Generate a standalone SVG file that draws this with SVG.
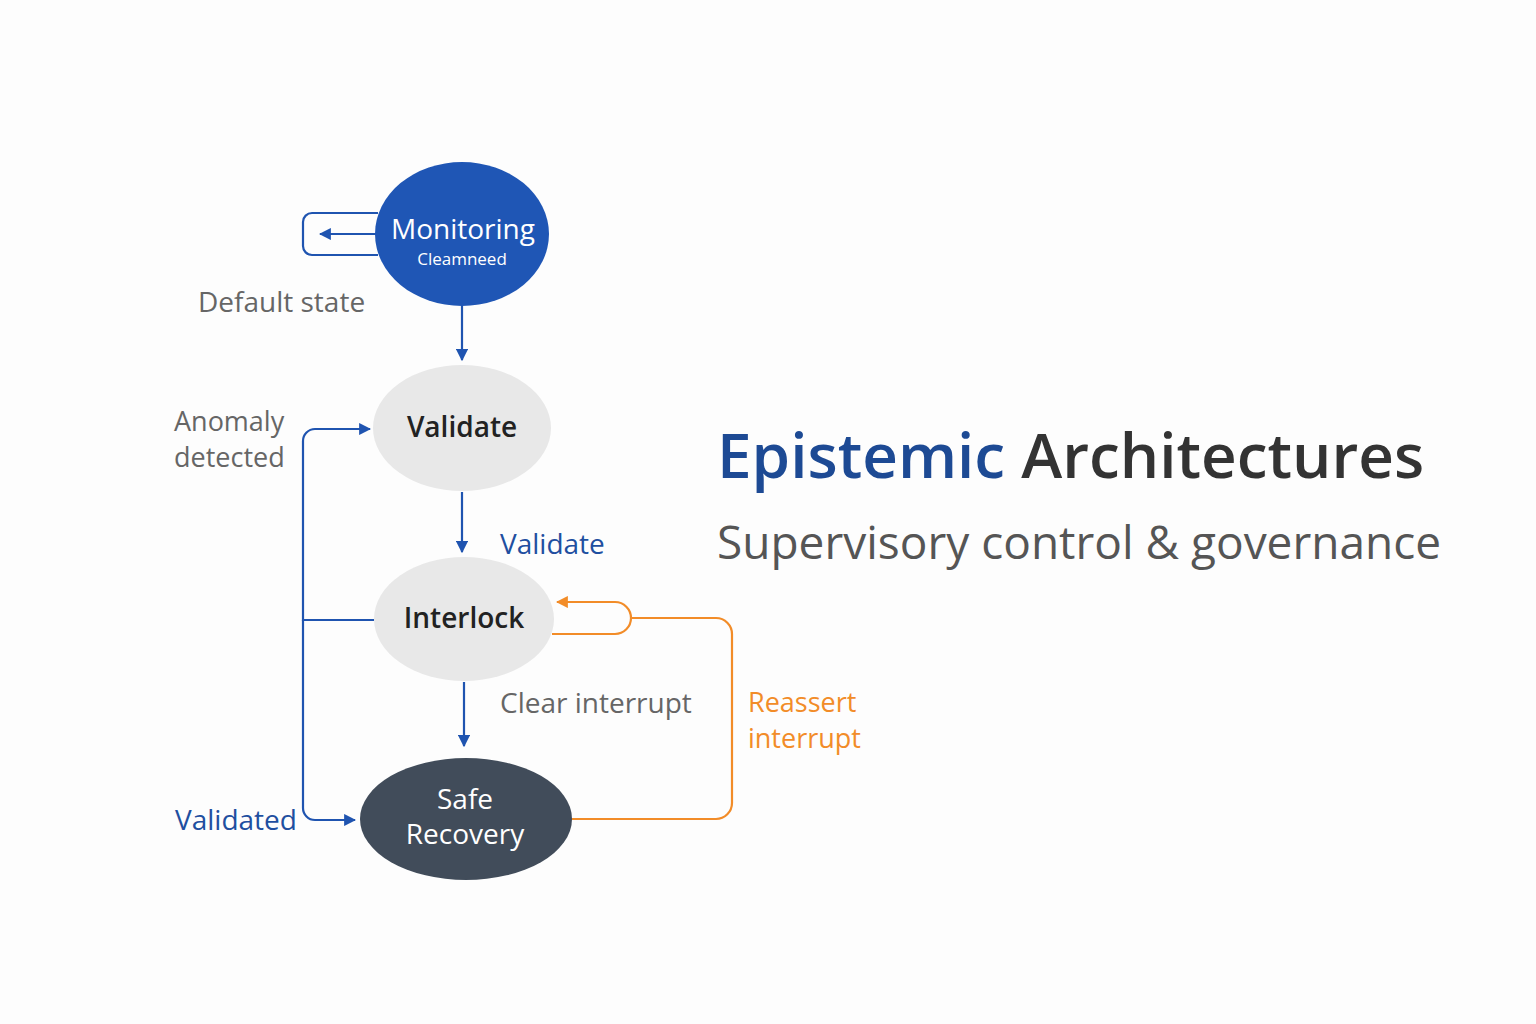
<svg xmlns="http://www.w3.org/2000/svg" width="1536" height="1024" viewBox="0 0 1536 1024">
<style>
text{font-family:"Open Sans","Noto Sans",sans-serif}
.b{fill:none;stroke:#1f54b0;stroke-width:2.2}
.o{fill:none;stroke:#f28c28;stroke-width:2.2}
.lbl{font-size:27px;fill:#666}
</style>
<defs>
<marker id="ab" viewBox="0 0 10 10" refX="9" refY="5" markerWidth="5.5" markerHeight="5.5" orient="auto"><path d="M0,0L10,5L0,10z" fill="#1f54b0"/></marker>
<marker id="ao" viewBox="0 0 10 10" refX="9" refY="5" markerWidth="5.5" markerHeight="5.5" orient="auto"><path d="M0,0L10,5L0,10z" fill="#f28c28"/></marker>
</defs>
<rect width="1536" height="1024" fill="#fdfdfd"/>
<g id="connectors">
<path class="b" d="M378,213H312a9,9 0 0 0 -9,9V246a9,9 0 0 0 9,9H378"/>
<path class="b" d="M376,234H320" marker-end="url(#ab)"/>
<path class="b" d="M462,306V360" marker-end="url(#ab)"/>
<path class="b" d="M462,492V552" marker-end="url(#ab)"/>
<path class="b" d="M464,682V746" marker-end="url(#ab)"/>
<path class="b" d="M374,620H303V441a12,12 0 0 1 12,-12H370" marker-end="url(#ab)"/>
<path class="b" d="M303,620V808a12,12 0 0 0 12,12H355" marker-end="url(#ab)"/>
<path class="o" d="M552,634H615a16,16 0 0 0 0,-32H557" marker-end="url(#ao)"/>
<path class="o" d="M631,618H716a16,16 0 0 1 16,16V803a16,16 0 0 1 -16,16H572"/>
</g>
<g id="monitoring"><ellipse cx="462" cy="234" rx="87" ry="72" fill="#1f56b5"/>
<text x="463" y="239" font-size="28" fill="#fff" text-anchor="middle">Monitoring</text>
<text x="462" y="265" font-size="17" fill="#fff" text-anchor="middle">Cleamneed</text></g>
<g id="validate"><ellipse cx="462" cy="428" rx="89" ry="63" fill="#e8e8e8"/>
<text x="462" y="437" font-size="28" font-weight="600" fill="#222" text-anchor="middle">Validate</text></g>
<g id="interlock"><ellipse cx="464" cy="619" rx="90" ry="62" fill="#e8e8e8"/>
<text x="464" y="628" font-size="28" font-weight="600" fill="#222" text-anchor="middle">Interlock</text></g>
<g id="recovery"><ellipse cx="466" cy="819" rx="106" ry="61" fill="#414c5a"/>
<text x="465" y="809" font-size="28" fill="#fff" text-anchor="middle">Safe</text>
<text x="465" y="844" font-size="28" fill="#fff" text-anchor="middle">Recovery</text></g>
<g id="labels">
<text class="lbl" x="198" y="312" style="font-size:28px">Default state</text>
<text class="lbl" x="174" y="431" style="font-size:27px">Anomaly</text>
<text class="lbl" x="174" y="467" style="font-size:27px">detected</text>
<text x="500" y="554" font-size="28" fill="#1f4fa0">Validate</text>
<text class="lbl" x="500" y="713" style="font-size:28px">Clear interrupt</text>
<text x="748" y="712" font-size="27" fill="#f28c28">Reassert</text>
<text x="748" y="748" font-size="27" fill="#f28c28">interrupt</text>
<text x="175" y="830" font-size="28" fill="#1f4fa0">Validated</text>
</g>
<g id="title">
<text x="717" y="478" font-size="62" font-weight="600" fill="#1d4a94">Epistemic <tspan fill="#333">Architectures</tspan></text>
<text x="717" y="559" font-size="46" fill="#555">Supervisory control &amp; governance</text>
</g>
</svg>
